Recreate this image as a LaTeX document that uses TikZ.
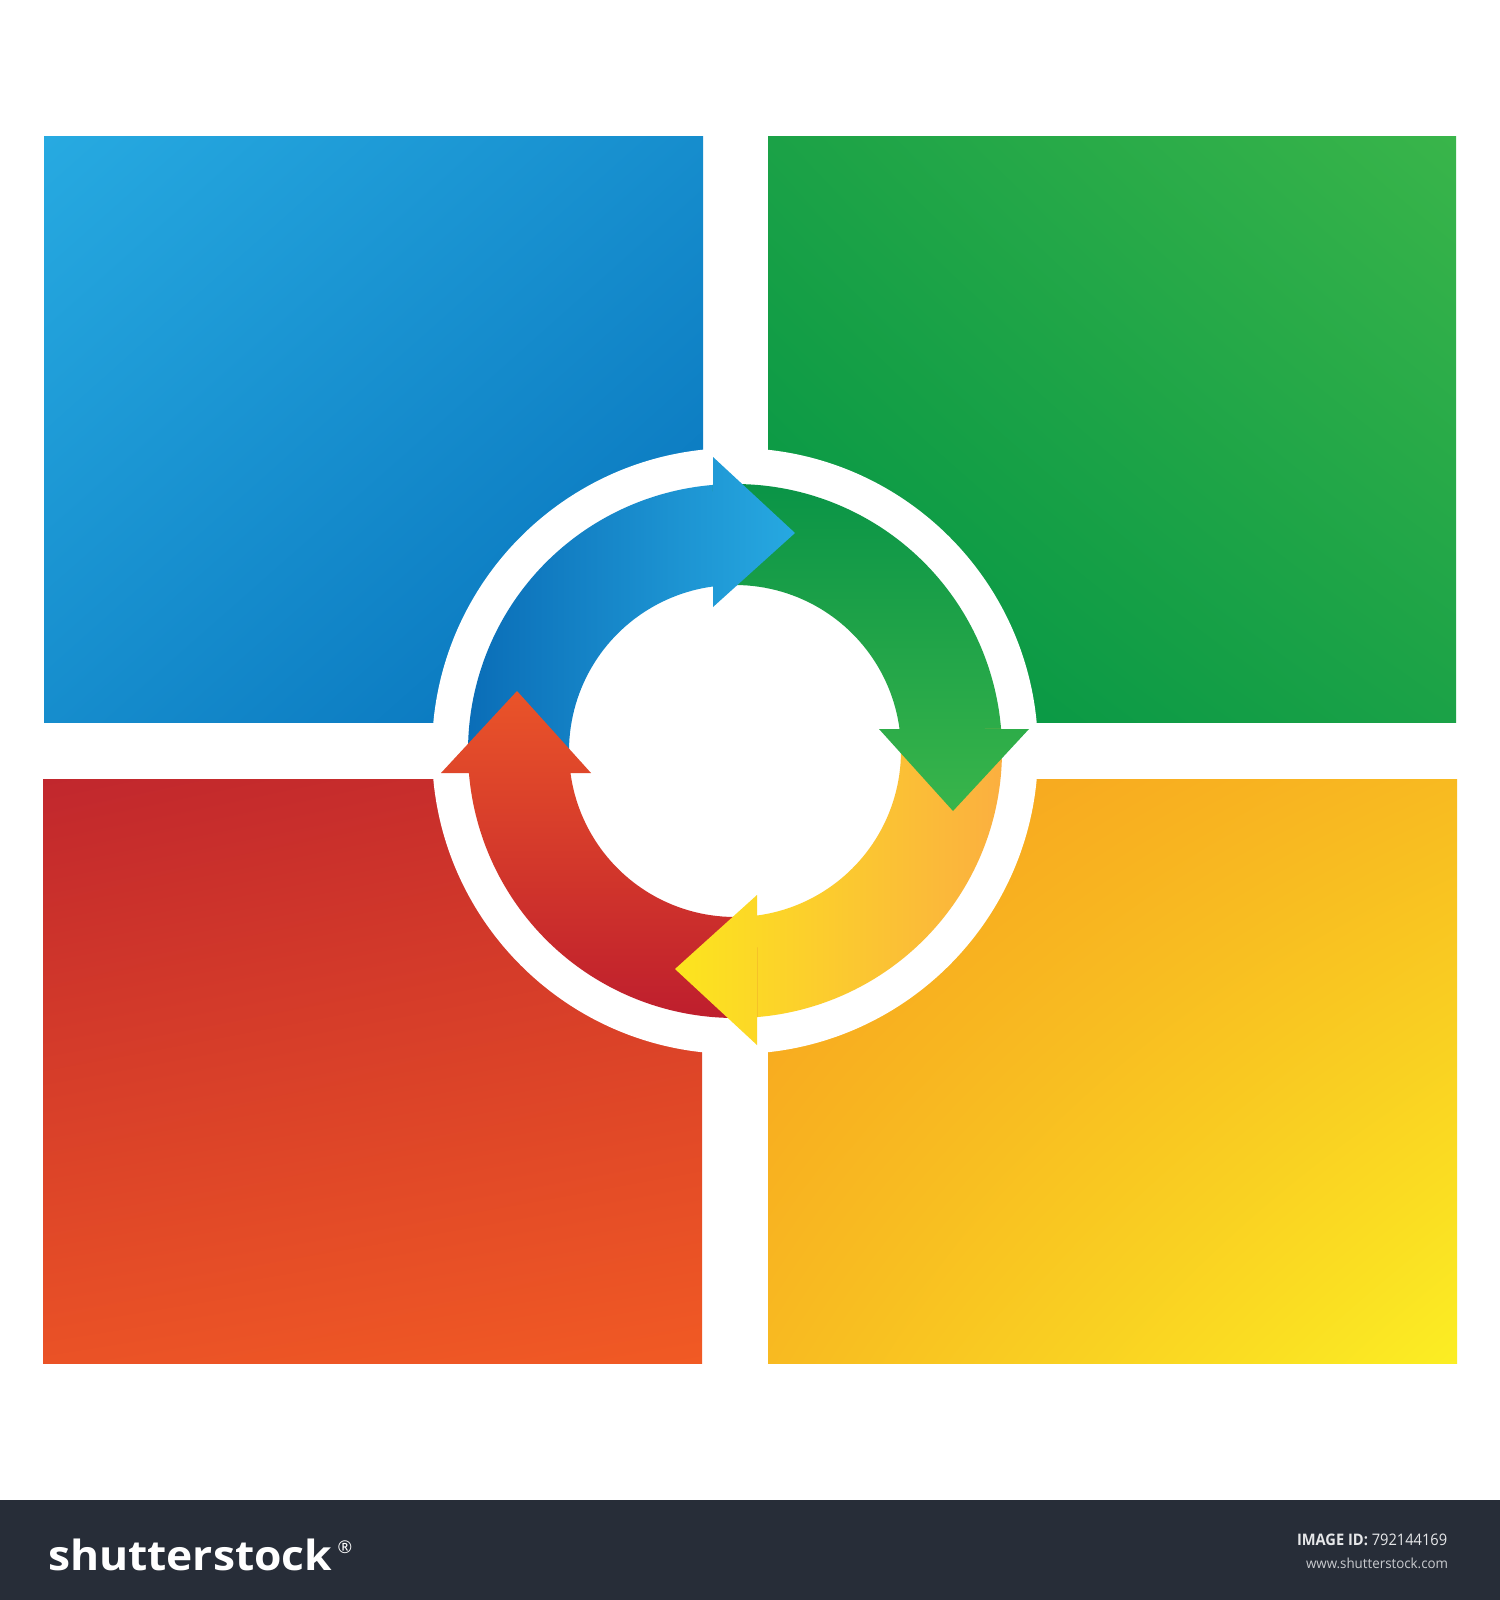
\documentclass[tikz,border=0pt]{standalone}
\usepackage{fontspec}
\setmainfont{Open Sans}
\usepackage{graphicx}
\usetikzlibrary{shadings}
% rectangle colours
\definecolor{rBlueL}{HTML}{27AAE1}
\definecolor{rBlueM}{HTML}{168DCD}
\definecolor{rBlueD}{HTML}{0570BA}
\definecolor{rGreenL}{HTML}{39B54A}
\definecolor{rGreenM}{HTML}{1BA247}
\definecolor{rGreenD}{HTML}{009444}
\definecolor{rRedUL}{HTML}{C1272D}
\definecolor{rRedUR}{HTML}{CB312B}
\definecolor{rRedLL}{HTML}{EA5226}
\definecolor{rRedLR}{HTML}{F15A24}
\definecolor{rYelUL}{HTML}{F7A01F}
\definecolor{rYelM}{HTML}{F8BA21}
\definecolor{rYelLR}{HTML}{FBEE23}
% arrow colours
\definecolor{aBlueD}{HTML}{0A6DB7}
\definecolor{aBlueL}{HTML}{27A9E1}
\definecolor{aGreenD}{HTML}{0A9447}
\definecolor{aGreenL}{HTML}{39B54A}
\definecolor{aYelO}{HTML}{FBAF40}
\definecolor{aYelY}{HTML}{FCE51E}
\definecolor{aRedD}{HTML}{BE1E2D}
\definecolor{aRedL}{HTML}{EA5429}
% footer
\definecolor{footbg}{HTML}{272D38}
\definecolor{idgray}{HTML}{E6E7E9}
\definecolor{urlgray}{HTML}{C9CBCF}
\newcommand{\clipshade}[3]{\begin{scope}\clip #1;\shade[#2] #3;\end{scope}}
\begin{document}
\begin{tikzpicture}[x=0.01cm,y=-0.01cm,
  foottext/.style={anchor=base west,inner sep=0pt,outer sep=0pt}]
\useasboundingbox (0,0) rectangle (1500,1600);
\fill[white] (0,0) rectangle (1500,1600);
% four panels
\shade[upper left=rBlueL,upper right=rBlueM,lower left=rBlueM,lower right=rBlueD] (44,137) rectangle (703,722);
\shade[upper left=rGreenM,upper right=rGreenL,lower left=rGreenD,lower right=rGreenM] (768,137) rectangle (1456,722);
\shade[upper left=rRedUL,upper right=rRedUR,lower left=rRedLL,lower right=rRedLR] (43,779) rectangle (702,1363);
\shade[upper left=rYelUL,upper right=rYelM,lower left=rYelM,lower right=rYelLR] (768,779) rectangle (1457,1363);
% central white disc
\coordinate (C) at (735,751);
\fill[white] (C) circle[radius=303];
\begin{scope}[shift={(C)}]
% arrow bodies
\clipshade{(175.27:267) arc[start angle=175.27,end angle=267.27,radius=267] -- (264.39:166) arc[start angle=264.39,end angle=172.39,radius=166] -- cycle}
  {left color=aBlueD,right color=aBlueL}{(-268,-300) rectangle (62,30)}
\clipshade{(265.27:267) arc[start angle=265.27,end angle=357.27,radius=267] -- (354.39:166) arc[start angle=354.39,end angle=262.39,radius=166] -- cycle}
  {top color=aGreenD,bottom color=aGreenL}{(-30,-268) rectangle (300,62)}
\clipshade{(355.27:267) arc[start angle=355.27,end angle=447.27,radius=267] -- (444.39:166) arc[start angle=444.39,end angle=352.39,radius=166] -- cycle}
  {left color=aYelY,right color=aYelO}{(-62,-30) rectangle (268,300)}
\clipshade{(445.27:267) arc[start angle=445.27,end angle=537.27,radius=267] -- (534.39:166) arc[start angle=534.39,end angle=442.39,radius=166] -- cycle}
  {top color=aRedL,bottom color=aRedD}{(-300,-62) rectangle (30,268)}
% arrow heads
\clipshade{(-22,-294) -- (60,-218) -- (-22,-144) -- cycle}
  {left color=aBlueD,right color=aBlueL}{(-268,-300) rectangle (62,30)}
\clipshade{(294,-22) -- (218,60) -- (144,-22) -- cycle}
  {top color=aGreenD,bottom color=aGreenL}{(-30,-268) rectangle (300,62)}
\clipshade{(22,294) -- (-60,218) -- (22,144) -- cycle}
  {left color=aYelY,right color=aYelO}{(-62,-30) rectangle (268,300)}
\clipshade{(-294,22) -- (-218,-60) -- (-144,22) -- cycle}
  {top color=aRedL,bottom color=aRedD}{(-300,-62) rectangle (30,268)}
\end{scope}
% footer bar
\fill[footbg] (0,1500) rectangle (1500,1600);
\node[foottext,text=white] (logo) at (48,1570) {\resizebox{2.84cm}{0.315cm}{\bfseries shutterstock}};
\node[anchor=north west,inner sep=0pt,text=white,font=\fontsize{5}{5}\selectfont] (reg) at (337,1540) {\textregistered};
\node[foottext,text=idgray] (imgid) at (1297,1545) {\resizebox{1.50cm}{0.115cm}{\textbf{IMAGE ID:} 792144169}};
\node[foottext,text=urlgray] (url) at (1306,1568) {\resizebox{1.42cm}{0.105cm}{www.shutterstock.com}};
\end{tikzpicture}
\end{document}
